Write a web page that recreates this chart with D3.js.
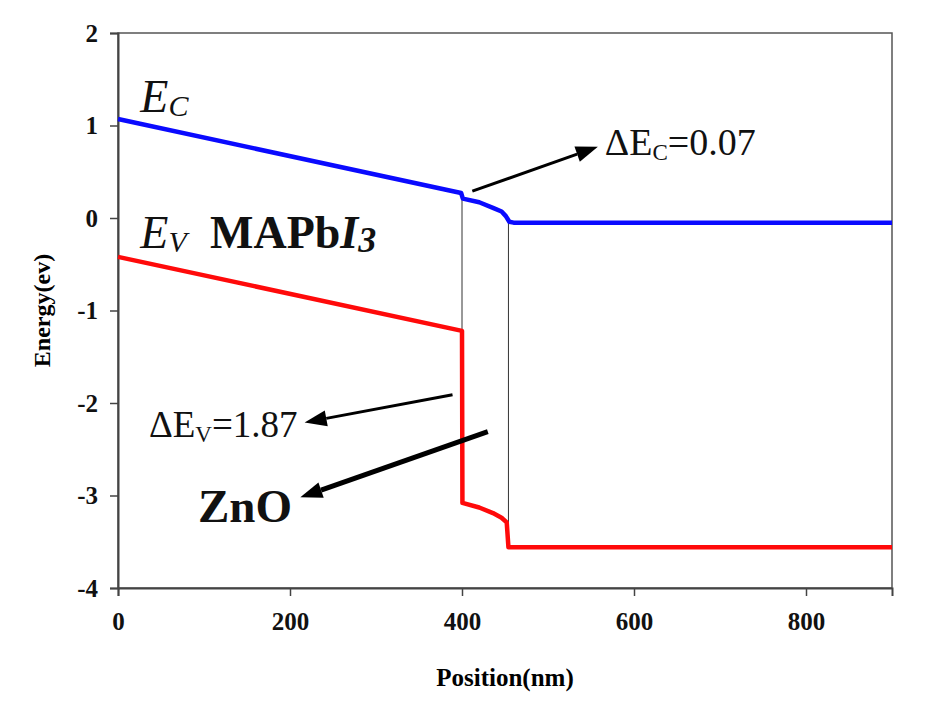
<!DOCTYPE html>
<html>
<head>
<meta charset="utf-8">
<script src="https://cdn.jsdelivr.net/npm/d3@7"></script>
<style>
  body { margin: 0; background: #fff; }
  svg text { font-family: "Liberation Serif", "Times New Roman", serif; }
</style>
</head>
<body>
<div id="chart"></div>
<script>
// band edges (position nm, energy eV)
const ecPos = [0, 399, 401, 420, 436, 446, 451, 455, 460, 900];
const ecVal = [1.07, 0.27, 0.21, 0.17, 0.11, 0.07, 0.02, -0.04, -0.05, -0.05];
const evPos = [0, 400, 400.5, 420, 436, 446, 452, 454, 460, 900];
const evVal = [-0.42, -1.22, -3.08, -3.13, -3.19, -3.24, -3.29, -3.56, -3.56, -3.56];

// thin interface markers
const interfaces = [
  { x: 400, y0: 0.21, y1: -1.22 },
  { x: 454, y0: -0.04, y1: -3.3 }
];

const xTicks = [0, 200, 400, 600, 800];
const yTicks = [-4, -3, -2, -1, 0, 1, 2];

// annotation arrows, in data units
const arrows = [
  { x1: 412, y1: 0.29, x2: 558, y2: 0.77, w: 3 },
  { x1: 389, y1: -1.91, x2: 217, y2: -2.21, w: 3 },
  { x1: 430, y1: -2.31, x2: 212, y2: -3.02, w: 5 }
];

const width = 931, height = 702;
const margin = { left: 118, right: 39, top: 33, bottom: 114 };

const svg = d3.select("#chart").append("svg")
  .attr("width", width)
  .attr("height", height)
  .attr("font-family", "'Liberation Serif', serif");

const x = d3.scaleLinear().domain([0, 900]).range([margin.left, width - margin.right]);
const y = d3.scaleLinear().domain([-4, 2]).range([height - margin.bottom, margin.top]);

// frame
svg.append("rect")
  .attr("x", x(0)).attr("y", y(2))
  .attr("width", x(900) - x(0)).attr("height", y(-4) - y(2))
  .attr("fill", "none").attr("stroke", "#555").attr("stroke-width", 1.5);

const xAxis = svg.append("g")
  .attr("transform", `translate(0,${y(-4)})`)
  .call(d3.axisBottom(x).tickValues(xTicks).tickSize(8).tickPadding(16).tickFormat(d => String(d)));
const yAxis = svg.append("g")
  .attr("transform", `translate(${x(0)},0)`)
  .call(d3.axisLeft(y).tickValues(yTicks).tickSize(8).tickPadding(12).tickFormat(d => String(d)));

[xAxis, yAxis].forEach(g => {
  g.attr("font-family", "'Liberation Serif', serif");
  g.select(".domain").attr("stroke", "#444").attr("stroke-width", 2);
  g.selectAll(".tick line").attr("stroke", "#444").attr("stroke-width", 1.5);
  g.selectAll(".tick text")
    .attr("fill", "#111")
    .style("font-weight", "bold")
    .style("font-size", "25px");
});

svg.append("text")
  .attr("x", (x(0) + x(900)) / 2).attr("y", 686)
  .attr("text-anchor", "middle")
  .style("font-weight", "bold").style("font-size", "25px")
  .text("Position(nm)");

svg.append("text")
  .attr("transform", `translate(50,${(y(2) + y(-4)) / 2}) rotate(-90)`)
  .attr("text-anchor", "middle")
  .style("font-weight", "bold").style("font-size", "24px")
  .text("Energy(ev)");

// interface markers
svg.selectAll("line.iface")
  .data(interfaces)
  .enter().append("line")
  .attr("class", "iface")
  .attr("x1", d => x(d.x)).attr("x2", d => x(d.x))
  .attr("y1", d => y(d.y0)).attr("y2", d => y(d.y1))
  .attr("stroke", "#333").attr("stroke-width", 1);

const line = d3.line().x(d => x(d[0])).y(d => y(d[1])).curve(d3.curveLinear);

svg.append("path")
  .datum(d3.zip(ecPos, ecVal))
  .attr("d", line)
  .attr("fill", "none").attr("stroke", "#0a0aff").attr("stroke-width", 4.5)
  .attr("stroke-linejoin", "round");

svg.append("path")
  .datum(d3.zip(evPos, evVal))
  .attr("d", line)
  .attr("fill", "none").attr("stroke", "#ff0a0a").attr("stroke-width", 4.5)
  .attr("stroke-linejoin", "round");

// arrows
arrows.forEach(a => {
  const x1 = x(a.x1), y1 = y(a.y1), x2 = x(a.x2), y2 = y(a.y2);
  const ang = Math.atan2(y2 - y1, x2 - x1);
  const len = 22, half = 8;
  const bx = x2 - len * Math.cos(ang), by = y2 - len * Math.sin(ang);
  svg.append("line")
    .attr("x1", x1).attr("y1", y1).attr("x2", bx).attr("y2", by)
    .attr("stroke", "#000").attr("stroke-width", a.w);
  svg.append("path")
    .attr("d", `M${x2},${y2}L${bx + half * Math.sin(ang)},${by - half * Math.cos(ang)}L${bx - half * Math.sin(ang)},${by + half * Math.cos(ang)}Z`)
    .attr("fill", "#000");
});

// labels
const ec = svg.append("text").attr("x", x(26)).attr("y", y(1.15))
  .style("font-style", "italic").style("font-size", "46px").attr("fill", "#111");
ec.append("tspan").text("E");
ec.append("tspan").attr("dy", 4).style("font-size", "30px").text("C");

const ev = svg.append("text").attr("x", x(26)).attr("y", y(-0.32))
  .style("font-style", "italic").style("font-size", "46px").attr("fill", "#111");
ev.append("tspan").text("E");
ev.append("tspan").attr("dy", 4).style("font-size", "30px").text("V");

const mapb = svg.append("text").attr("x", x(107)).attr("y", y(-0.32))
  .style("font-weight", "bold").style("font-size", "46px").attr("fill", "#111");
mapb.append("tspan").text("MAPb");
mapb.append("tspan").style("font-style", "italic").text("I");
mapb.append("tspan").style("font-style", "italic").attr("dy", 4).style("font-size", "36px").text("3");

const dec = svg.append("text").attr("x", x(566)).attr("y", y(0.68))
  .style("font-size", "38px").attr("fill", "#111");
dec.append("tspan").text("ΔE");
dec.append("tspan").attr("dy", 5).style("font-size", "23px").text("C");
dec.append("tspan").attr("dy", -5).text("=0.07");

const dev = svg.append("text").attr("x", x(36)).attr("y", y(-2.37))
  .style("font-size", "37px").attr("fill", "#111");
dev.append("tspan").text("ΔE");
dev.append("tspan").attr("dy", 5).style("font-size", "23px").text("V");
dev.append("tspan").attr("dy", -5).text("=1.87");

svg.append("text").attr("x", x(93)).attr("y", y(-3.29))
  .style("font-weight", "bold").style("font-size", "47px").attr("fill", "#111")
  .text("ZnO");
</script>
</body>
</html>
